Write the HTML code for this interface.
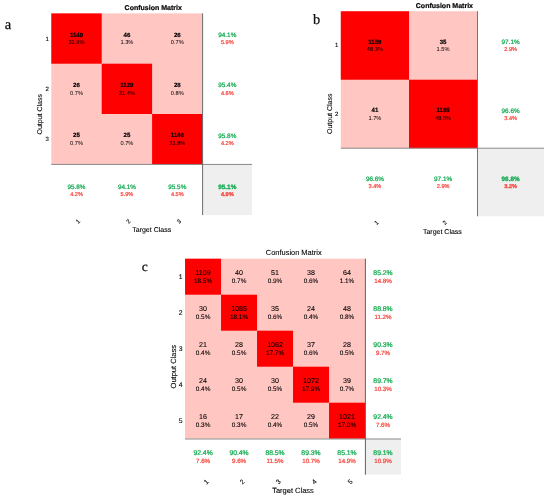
<!DOCTYPE html>
<html><head><meta charset="utf-8"><title>Confusion Matrices</title>
<style>
html,body{margin:0;padding:0;background:#fff;}
body{width:550px;height:500px;overflow:hidden;}
svg{display:block;font-family:"Liberation Sans", Arial, sans-serif;text-rendering:geometricPrecision;}
</style></head><body>
<svg width="550" height="500" viewBox="0 0 550 500">
<rect x="0" y="0" width="550" height="500" fill="#ffffff"/>
<rect x="51.30" y="13.40" width="151.20" height="150.90" fill="#ffc6c2"/>
<rect x="51.30" y="13.40" width="50.40" height="50.30" fill="#ff0000"/>
<rect x="101.70" y="63.70" width="50.40" height="50.30" fill="#ff0000"/>
<rect x="152.10" y="114.00" width="50.40" height="50.30" fill="#ff0000"/>
<rect x="202.50" y="164.30" width="49.60" height="50.80" fill="#efefef"/>
<line x1="51.30" y1="164.45" x2="252.10" y2="164.45" stroke="#858585" stroke-width="0.95"/>
<line x1="202.60" y1="13.40" x2="202.60" y2="215.10" stroke="#666666" stroke-width="0.95"/>
<text x="76.50" y="36.75" font-size="6.1" fill="#000" font-weight="bold" text-anchor="middle" stroke="#000" stroke-width="0.18">1149</text>
<text x="76.50" y="44.25" font-size="5.7" fill="#000" text-anchor="middle" stroke="#000" stroke-width="0.02">31.9%</text>
<text x="126.90" y="36.75" font-size="6.1" fill="#000" font-weight="bold" text-anchor="middle" stroke="#000" stroke-width="0.18">46</text>
<text x="126.90" y="44.25" font-size="5.7" fill="#000" text-anchor="middle" stroke="#000" stroke-width="0.02">1.3%</text>
<text x="177.30" y="36.75" font-size="6.1" fill="#000" font-weight="bold" text-anchor="middle" stroke="#000" stroke-width="0.18">26</text>
<text x="177.30" y="44.25" font-size="5.7" fill="#000" text-anchor="middle" stroke="#000" stroke-width="0.02">0.7%</text>
<text x="76.50" y="87.05" font-size="6.1" fill="#000" font-weight="bold" text-anchor="middle" stroke="#000" stroke-width="0.18">26</text>
<text x="76.50" y="94.55" font-size="5.7" fill="#000" text-anchor="middle" stroke="#000" stroke-width="0.02">0.7%</text>
<text x="126.90" y="87.05" font-size="6.1" fill="#000" font-weight="bold" text-anchor="middle" stroke="#000" stroke-width="0.18">1129</text>
<text x="126.90" y="94.55" font-size="5.7" fill="#000" text-anchor="middle" stroke="#000" stroke-width="0.02">31.4%</text>
<text x="177.30" y="87.05" font-size="6.1" fill="#000" font-weight="bold" text-anchor="middle" stroke="#000" stroke-width="0.18">28</text>
<text x="177.30" y="94.55" font-size="5.7" fill="#000" text-anchor="middle" stroke="#000" stroke-width="0.02">0.8%</text>
<text x="76.50" y="137.35" font-size="6.1" fill="#000" font-weight="bold" text-anchor="middle" stroke="#000" stroke-width="0.18">25</text>
<text x="76.50" y="144.85" font-size="5.7" fill="#000" text-anchor="middle" stroke="#000" stroke-width="0.02">0.7%</text>
<text x="126.90" y="137.35" font-size="6.1" fill="#000" font-weight="bold" text-anchor="middle" stroke="#000" stroke-width="0.18">25</text>
<text x="126.90" y="144.85" font-size="5.7" fill="#000" text-anchor="middle" stroke="#000" stroke-width="0.02">0.7%</text>
<text x="177.30" y="137.35" font-size="6.1" fill="#000" font-weight="bold" text-anchor="middle" stroke="#000" stroke-width="0.18">1146</text>
<text x="177.30" y="144.85" font-size="5.7" fill="#000" text-anchor="middle" stroke="#000" stroke-width="0.02">31.8%</text>
<text x="227.30" y="37.15" font-size="6.35" fill="#12aa50" text-anchor="middle" stroke="#12aa50" stroke-width="0.23">94.1%</text>
<text x="227.30" y="44.25" font-size="5.6" fill="#f7463d" text-anchor="middle" stroke="#f7463d" stroke-width="0.23">5.9%</text>
<text x="227.30" y="87.45" font-size="6.35" fill="#12aa50" text-anchor="middle" stroke="#12aa50" stroke-width="0.23">95.4%</text>
<text x="227.30" y="94.55" font-size="5.6" fill="#f7463d" text-anchor="middle" stroke="#f7463d" stroke-width="0.23">4.6%</text>
<text x="227.30" y="137.75" font-size="6.35" fill="#12aa50" text-anchor="middle" stroke="#12aa50" stroke-width="0.23">95.8%</text>
<text x="227.30" y="144.85" font-size="5.6" fill="#f7463d" text-anchor="middle" stroke="#f7463d" stroke-width="0.23">4.2%</text>
<text x="227.30" y="188.80" font-size="6.35" fill="#12aa50" font-weight="bold" text-anchor="middle" stroke="#12aa50" stroke-width="0.32">95.1%</text>
<text x="227.30" y="195.90" font-size="5.6" fill="#f7463d" font-weight="bold" text-anchor="middle" stroke="#f7463d" stroke-width="0.32">4.9%</text>
<text x="76.50" y="188.80" font-size="6.35" fill="#12aa50" text-anchor="middle" stroke="#12aa50" stroke-width="0.23">95.8%</text>
<text x="76.50" y="195.90" font-size="5.6" fill="#f7463d" text-anchor="middle" stroke="#f7463d" stroke-width="0.23">4.2%</text>
<text x="126.90" y="188.80" font-size="6.35" fill="#12aa50" text-anchor="middle" stroke="#12aa50" stroke-width="0.23">94.1%</text>
<text x="126.90" y="195.90" font-size="5.6" fill="#f7463d" text-anchor="middle" stroke="#f7463d" stroke-width="0.23">5.9%</text>
<text x="177.30" y="188.80" font-size="6.35" fill="#12aa50" text-anchor="middle" stroke="#12aa50" stroke-width="0.23">95.5%</text>
<text x="177.30" y="195.90" font-size="5.6" fill="#f7463d" text-anchor="middle" stroke="#f7463d" stroke-width="0.23">4.5%</text>
<text x="153.20" y="10.40" font-size="7" fill="#000" font-weight="bold" text-anchor="middle" stroke="#000" stroke-width="0.18">Confusion Matrix</text>
<text x="48.80" y="40.55" font-size="6" fill="#000" text-anchor="end" stroke="#000" stroke-width="0.09">1</text>
<text x="48.80" y="90.85" font-size="6" fill="#000" text-anchor="end" stroke="#000" stroke-width="0.09">2</text>
<text x="48.80" y="141.15" font-size="6" fill="#000" text-anchor="end" stroke="#000" stroke-width="0.09">3</text>
<text x="78.00" y="223.46" font-size="6" fill="#000" text-anchor="middle" transform="rotate(-45 78.00 221.30)" stroke="#000" stroke-width="0.09">1</text>
<text x="128.40" y="223.46" font-size="6" fill="#000" text-anchor="middle" transform="rotate(-45 128.40 221.30)" stroke="#000" stroke-width="0.09">2</text>
<text x="178.80" y="223.46" font-size="6" fill="#000" text-anchor="middle" transform="rotate(-45 178.80 221.30)" stroke="#000" stroke-width="0.09">3</text>
<text x="151.70" y="232.10" font-size="7" fill="#000" text-anchor="middle" stroke="#000" stroke-width="0.09">Target Class</text>
<text x="42.30" y="114.25" font-size="7" fill="#000" text-anchor="middle" transform="rotate(-90 42.30 114.25)" stroke="#000" stroke-width="0.09">Output Class</text>
<text x="4.8" y="29.4" font-size="14.5" font-family='"Liberation Serif", "DejaVu Serif", serif' fill="#111" stroke="#111" stroke-width="0.25">a</text>
<rect x="340.80" y="11.25" width="136.40" height="136.94" fill="#ffc6c2"/>
<rect x="340.80" y="11.25" width="68.20" height="68.47" fill="#ff0000"/>
<rect x="409.00" y="79.72" width="68.20" height="68.47" fill="#ff0000"/>
<rect x="477.20" y="148.19" width="66.80" height="68.10" fill="#efefef"/>
<line x1="340.80" y1="148.19" x2="544.00" y2="148.19" stroke="#858585" stroke-width="0.95"/>
<line x1="477.50" y1="11.25" x2="477.50" y2="216.29" stroke="#666666" stroke-width="0.9"/>
<text x="374.90" y="43.69" font-size="6.1" fill="#000" font-weight="bold" text-anchor="middle" stroke="#000" stroke-width="0.18">1159</text>
<text x="374.90" y="51.19" font-size="5.7" fill="#000" text-anchor="middle" stroke="#000" stroke-width="0.02">48.3%</text>
<text x="443.10" y="43.69" font-size="6.1" fill="#000" font-weight="bold" text-anchor="middle" stroke="#000" stroke-width="0.18">35</text>
<text x="443.10" y="51.19" font-size="5.7" fill="#000" text-anchor="middle" stroke="#000" stroke-width="0.02">1.5%</text>
<text x="374.90" y="112.16" font-size="6.1" fill="#000" font-weight="bold" text-anchor="middle" stroke="#000" stroke-width="0.18">41</text>
<text x="374.90" y="119.66" font-size="5.7" fill="#000" text-anchor="middle" stroke="#000" stroke-width="0.02">1.7%</text>
<text x="443.10" y="112.16" font-size="6.1" fill="#000" font-weight="bold" text-anchor="middle" stroke="#000" stroke-width="0.18">1165</text>
<text x="443.10" y="119.66" font-size="5.7" fill="#000" text-anchor="middle" stroke="#000" stroke-width="0.02">48.5%</text>
<text x="510.60" y="44.09" font-size="6.35" fill="#12aa50" text-anchor="middle" stroke="#12aa50" stroke-width="0.23">97.1%</text>
<text x="510.60" y="51.19" font-size="5.6" fill="#f7463d" text-anchor="middle" stroke="#f7463d" stroke-width="0.23">2.9%</text>
<text x="510.60" y="112.55" font-size="6.35" fill="#12aa50" text-anchor="middle" stroke="#12aa50" stroke-width="0.23">96.6%</text>
<text x="510.60" y="119.66" font-size="5.6" fill="#f7463d" text-anchor="middle" stroke="#f7463d" stroke-width="0.23">3.4%</text>
<text x="510.60" y="180.84" font-size="6.35" fill="#12aa50" font-weight="bold" text-anchor="middle" stroke="#12aa50" stroke-width="0.32">96.8%</text>
<text x="510.60" y="187.94" font-size="5.6" fill="#f7463d" font-weight="bold" text-anchor="middle" stroke="#f7463d" stroke-width="0.32">3.2%</text>
<text x="374.90" y="180.84" font-size="6.35" fill="#12aa50" text-anchor="middle" stroke="#12aa50" stroke-width="0.23">96.6%</text>
<text x="374.90" y="187.94" font-size="5.6" fill="#f7463d" text-anchor="middle" stroke="#f7463d" stroke-width="0.23">3.4%</text>
<text x="443.10" y="180.84" font-size="6.35" fill="#12aa50" text-anchor="middle" stroke="#12aa50" stroke-width="0.23">97.1%</text>
<text x="443.10" y="187.94" font-size="5.6" fill="#f7463d" text-anchor="middle" stroke="#f7463d" stroke-width="0.23">2.9%</text>
<text x="444.40" y="8.25" font-size="7" fill="#000" font-weight="bold" text-anchor="middle" stroke="#000" stroke-width="0.18">Confusion Matrix</text>
<text x="338.30" y="47.48" font-size="6" fill="#000" text-anchor="end" stroke="#000" stroke-width="0.09">1</text>
<text x="338.30" y="115.95" font-size="6" fill="#000" text-anchor="end" stroke="#000" stroke-width="0.09">2</text>
<text x="376.40" y="224.65" font-size="6" fill="#000" text-anchor="middle" transform="rotate(-45 376.40 222.49)" stroke="#000" stroke-width="0.09">1</text>
<text x="444.60" y="224.65" font-size="6" fill="#000" text-anchor="middle" transform="rotate(-45 444.60 222.49)" stroke="#000" stroke-width="0.09">2</text>
<text x="442.40" y="233.79" font-size="7" fill="#000" text-anchor="middle" stroke="#000" stroke-width="0.09">Target Class</text>
<text x="331.80" y="113.77" font-size="7" fill="#000" text-anchor="middle" transform="rotate(-90 331.80 113.77)" stroke="#000" stroke-width="0.09">Output Class</text>
<text x="313.1" y="24.1" font-size="14.4" font-family='"Liberation Serif", "DejaVu Serif", serif' fill="#111" stroke="#111" stroke-width="0.25">b</text>
<rect x="185.05" y="258.70" width="179.95" height="180.00" fill="#ffc6c2"/>
<rect x="185.05" y="258.70" width="35.99" height="36.00" fill="#ff0000"/>
<rect x="221.04" y="294.70" width="35.99" height="36.00" fill="#ff0000"/>
<rect x="257.03" y="330.70" width="35.99" height="36.00" fill="#ff0000"/>
<rect x="293.02" y="366.70" width="35.99" height="36.00" fill="#ff0000"/>
<rect x="329.01" y="402.70" width="35.99" height="36.00" fill="#ff0000"/>
<rect x="365.00" y="438.70" width="35.99" height="36.00" fill="#efefef"/>
<line x1="185.05" y1="439.00" x2="400.99" y2="439.00" stroke="#8c8c8c" stroke-width="1.1"/>
<line x1="365.40" y1="258.70" x2="365.40" y2="474.70" stroke="#606060" stroke-width="1.0"/>
<text x="203.05" y="275.30" font-size="7.1" fill="#000" text-anchor="middle" stroke="#000" stroke-width="0.09">1109</text>
<text x="203.05" y="282.70" font-size="6.4" fill="#000" text-anchor="middle" stroke="#000" stroke-width="0.09">18.5%</text>
<text x="239.04" y="275.30" font-size="7.1" fill="#000" text-anchor="middle" stroke="#000" stroke-width="0.09">40</text>
<text x="239.04" y="282.70" font-size="6.4" fill="#000" text-anchor="middle" stroke="#000" stroke-width="0.09">0.7%</text>
<text x="275.03" y="275.30" font-size="7.1" fill="#000" text-anchor="middle" stroke="#000" stroke-width="0.09">51</text>
<text x="275.03" y="282.70" font-size="6.4" fill="#000" text-anchor="middle" stroke="#000" stroke-width="0.09">0.9%</text>
<text x="311.01" y="275.30" font-size="7.1" fill="#000" text-anchor="middle" stroke="#000" stroke-width="0.09">38</text>
<text x="311.01" y="282.70" font-size="6.4" fill="#000" text-anchor="middle" stroke="#000" stroke-width="0.09">0.6%</text>
<text x="347.00" y="275.30" font-size="7.1" fill="#000" text-anchor="middle" stroke="#000" stroke-width="0.09">64</text>
<text x="347.00" y="282.70" font-size="6.4" fill="#000" text-anchor="middle" stroke="#000" stroke-width="0.09">1.1%</text>
<text x="203.05" y="311.30" font-size="7.1" fill="#000" text-anchor="middle" stroke="#000" stroke-width="0.09">30</text>
<text x="203.05" y="318.70" font-size="6.4" fill="#000" text-anchor="middle" stroke="#000" stroke-width="0.09">0.5%</text>
<text x="239.04" y="311.30" font-size="7.1" fill="#000" text-anchor="middle" stroke="#000" stroke-width="0.09">1085</text>
<text x="239.04" y="318.70" font-size="6.4" fill="#000" text-anchor="middle" stroke="#000" stroke-width="0.09">18.1%</text>
<text x="275.03" y="311.30" font-size="7.1" fill="#000" text-anchor="middle" stroke="#000" stroke-width="0.09">35</text>
<text x="275.03" y="318.70" font-size="6.4" fill="#000" text-anchor="middle" stroke="#000" stroke-width="0.09">0.6%</text>
<text x="311.01" y="311.30" font-size="7.1" fill="#000" text-anchor="middle" stroke="#000" stroke-width="0.09">24</text>
<text x="311.01" y="318.70" font-size="6.4" fill="#000" text-anchor="middle" stroke="#000" stroke-width="0.09">0.4%</text>
<text x="347.00" y="311.30" font-size="7.1" fill="#000" text-anchor="middle" stroke="#000" stroke-width="0.09">48</text>
<text x="347.00" y="318.70" font-size="6.4" fill="#000" text-anchor="middle" stroke="#000" stroke-width="0.09">0.8%</text>
<text x="203.05" y="347.30" font-size="7.1" fill="#000" text-anchor="middle" stroke="#000" stroke-width="0.09">21</text>
<text x="203.05" y="354.70" font-size="6.4" fill="#000" text-anchor="middle" stroke="#000" stroke-width="0.09">0.4%</text>
<text x="239.04" y="347.30" font-size="7.1" fill="#000" text-anchor="middle" stroke="#000" stroke-width="0.09">28</text>
<text x="239.04" y="354.70" font-size="6.4" fill="#000" text-anchor="middle" stroke="#000" stroke-width="0.09">0.5%</text>
<text x="275.03" y="347.30" font-size="7.1" fill="#000" text-anchor="middle" stroke="#000" stroke-width="0.09">1062</text>
<text x="275.03" y="354.70" font-size="6.4" fill="#000" text-anchor="middle" stroke="#000" stroke-width="0.09">17.7%</text>
<text x="311.01" y="347.30" font-size="7.1" fill="#000" text-anchor="middle" stroke="#000" stroke-width="0.09">37</text>
<text x="311.01" y="354.70" font-size="6.4" fill="#000" text-anchor="middle" stroke="#000" stroke-width="0.09">0.6%</text>
<text x="347.00" y="347.30" font-size="7.1" fill="#000" text-anchor="middle" stroke="#000" stroke-width="0.09">28</text>
<text x="347.00" y="354.70" font-size="6.4" fill="#000" text-anchor="middle" stroke="#000" stroke-width="0.09">0.5%</text>
<text x="203.05" y="383.30" font-size="7.1" fill="#000" text-anchor="middle" stroke="#000" stroke-width="0.09">24</text>
<text x="203.05" y="390.70" font-size="6.4" fill="#000" text-anchor="middle" stroke="#000" stroke-width="0.09">0.4%</text>
<text x="239.04" y="383.30" font-size="7.1" fill="#000" text-anchor="middle" stroke="#000" stroke-width="0.09">30</text>
<text x="239.04" y="390.70" font-size="6.4" fill="#000" text-anchor="middle" stroke="#000" stroke-width="0.09">0.5%</text>
<text x="275.03" y="383.30" font-size="7.1" fill="#000" text-anchor="middle" stroke="#000" stroke-width="0.09">30</text>
<text x="275.03" y="390.70" font-size="6.4" fill="#000" text-anchor="middle" stroke="#000" stroke-width="0.09">0.5%</text>
<text x="311.01" y="383.30" font-size="7.1" fill="#000" text-anchor="middle" stroke="#000" stroke-width="0.09">1072</text>
<text x="311.01" y="390.70" font-size="6.4" fill="#000" text-anchor="middle" stroke="#000" stroke-width="0.09">17.9%</text>
<text x="347.00" y="383.30" font-size="7.1" fill="#000" text-anchor="middle" stroke="#000" stroke-width="0.09">39</text>
<text x="347.00" y="390.70" font-size="6.4" fill="#000" text-anchor="middle" stroke="#000" stroke-width="0.09">0.7%</text>
<text x="203.05" y="419.30" font-size="7.1" fill="#000" text-anchor="middle" stroke="#000" stroke-width="0.09">16</text>
<text x="203.05" y="426.70" font-size="6.4" fill="#000" text-anchor="middle" stroke="#000" stroke-width="0.09">0.3%</text>
<text x="239.04" y="419.30" font-size="7.1" fill="#000" text-anchor="middle" stroke="#000" stroke-width="0.09">17</text>
<text x="239.04" y="426.70" font-size="6.4" fill="#000" text-anchor="middle" stroke="#000" stroke-width="0.09">0.3%</text>
<text x="275.03" y="419.30" font-size="7.1" fill="#000" text-anchor="middle" stroke="#000" stroke-width="0.09">22</text>
<text x="275.03" y="426.70" font-size="6.4" fill="#000" text-anchor="middle" stroke="#000" stroke-width="0.09">0.4%</text>
<text x="311.01" y="419.30" font-size="7.1" fill="#000" text-anchor="middle" stroke="#000" stroke-width="0.09">29</text>
<text x="311.01" y="426.70" font-size="6.4" fill="#000" text-anchor="middle" stroke="#000" stroke-width="0.09">0.5%</text>
<text x="347.00" y="419.30" font-size="7.1" fill="#000" text-anchor="middle" stroke="#000" stroke-width="0.09">1021</text>
<text x="347.00" y="426.70" font-size="6.4" fill="#000" text-anchor="middle" stroke="#000" stroke-width="0.09">17.0%</text>
<text x="383.00" y="275.30" font-size="6.8" fill="#12aa50" text-anchor="middle" stroke="#12aa50" stroke-width="0.23">85.2%</text>
<text x="383.00" y="282.70" font-size="6.2" fill="#f7463d" text-anchor="middle" stroke="#f7463d" stroke-width="0.23">14.8%</text>
<text x="383.00" y="311.30" font-size="6.8" fill="#12aa50" text-anchor="middle" stroke="#12aa50" stroke-width="0.23">88.8%</text>
<text x="383.00" y="318.70" font-size="6.2" fill="#f7463d" text-anchor="middle" stroke="#f7463d" stroke-width="0.23">11.2%</text>
<text x="383.00" y="347.30" font-size="6.8" fill="#12aa50" text-anchor="middle" stroke="#12aa50" stroke-width="0.23">90.3%</text>
<text x="383.00" y="354.70" font-size="6.2" fill="#f7463d" text-anchor="middle" stroke="#f7463d" stroke-width="0.23">9.7%</text>
<text x="383.00" y="383.30" font-size="6.8" fill="#12aa50" text-anchor="middle" stroke="#12aa50" stroke-width="0.23">89.7%</text>
<text x="383.00" y="390.70" font-size="6.2" fill="#f7463d" text-anchor="middle" stroke="#f7463d" stroke-width="0.23">10.3%</text>
<text x="383.00" y="419.30" font-size="6.8" fill="#12aa50" text-anchor="middle" stroke="#12aa50" stroke-width="0.23">92.4%</text>
<text x="383.00" y="426.70" font-size="6.2" fill="#f7463d" text-anchor="middle" stroke="#f7463d" stroke-width="0.23">7.6%</text>
<text x="383.00" y="455.30" font-size="6.8" fill="#12aa50" text-anchor="middle" stroke="#12aa50" stroke-width="0.23">89.1%</text>
<text x="383.00" y="462.70" font-size="6.2" fill="#f7463d" text-anchor="middle" stroke="#f7463d" stroke-width="0.23">10.9%</text>
<text x="203.05" y="455.30" font-size="6.8" fill="#12aa50" text-anchor="middle" stroke="#12aa50" stroke-width="0.23">92.4%</text>
<text x="203.05" y="462.70" font-size="6.2" fill="#f7463d" text-anchor="middle" stroke="#f7463d" stroke-width="0.23">7.6%</text>
<text x="239.04" y="455.30" font-size="6.8" fill="#12aa50" text-anchor="middle" stroke="#12aa50" stroke-width="0.23">90.4%</text>
<text x="239.04" y="462.70" font-size="6.2" fill="#f7463d" text-anchor="middle" stroke="#f7463d" stroke-width="0.23">9.6%</text>
<text x="275.03" y="455.30" font-size="6.8" fill="#12aa50" text-anchor="middle" stroke="#12aa50" stroke-width="0.23">88.5%</text>
<text x="275.03" y="462.70" font-size="6.2" fill="#f7463d" text-anchor="middle" stroke="#f7463d" stroke-width="0.23">11.5%</text>
<text x="311.01" y="455.30" font-size="6.8" fill="#12aa50" text-anchor="middle" stroke="#12aa50" stroke-width="0.23">89.3%</text>
<text x="311.01" y="462.70" font-size="6.2" fill="#f7463d" text-anchor="middle" stroke="#f7463d" stroke-width="0.23">10.7%</text>
<text x="347.00" y="455.30" font-size="6.8" fill="#12aa50" text-anchor="middle" stroke="#12aa50" stroke-width="0.23">85.1%</text>
<text x="347.00" y="462.70" font-size="6.2" fill="#f7463d" text-anchor="middle" stroke="#f7463d" stroke-width="0.23">14.9%</text>
<text x="293.72" y="255.40" font-size="7.45" fill="#000" text-anchor="middle" stroke="#000" stroke-width="0.09">Confusion Matrix</text>
<text x="182.55" y="279.30" font-size="6.8" fill="#000" text-anchor="end" stroke="#000" stroke-width="0.09">1</text>
<text x="182.55" y="315.30" font-size="6.8" fill="#000" text-anchor="end" stroke="#000" stroke-width="0.09">2</text>
<text x="182.55" y="351.30" font-size="6.8" fill="#000" text-anchor="end" stroke="#000" stroke-width="0.09">3</text>
<text x="182.55" y="387.30" font-size="6.8" fill="#000" text-anchor="end" stroke="#000" stroke-width="0.09">4</text>
<text x="182.55" y="423.30" font-size="6.8" fill="#000" text-anchor="end" stroke="#000" stroke-width="0.09">5</text>
<text x="206.05" y="484.15" font-size="6.8" fill="#000" text-anchor="middle" transform="rotate(-45 206.05 481.70)" stroke="#000" stroke-width="0.09">1</text>
<text x="242.04" y="484.15" font-size="6.8" fill="#000" text-anchor="middle" transform="rotate(-45 242.04 481.70)" stroke="#000" stroke-width="0.09">2</text>
<text x="278.03" y="484.15" font-size="6.8" fill="#000" text-anchor="middle" transform="rotate(-45 278.03 481.70)" stroke="#000" stroke-width="0.09">3</text>
<text x="314.01" y="484.15" font-size="6.8" fill="#000" text-anchor="middle" transform="rotate(-45 314.01 481.70)" stroke="#000" stroke-width="0.09">4</text>
<text x="350.00" y="484.15" font-size="6.8" fill="#000" text-anchor="middle" transform="rotate(-45 350.00 481.70)" stroke="#000" stroke-width="0.09">5</text>
<text x="293.02" y="492.50" font-size="7.5" fill="#000" text-anchor="middle" stroke="#000" stroke-width="0.09">Target Class</text>
<text x="176.05" y="366.70" font-size="7.5" fill="#000" text-anchor="middle" transform="rotate(-90 176.05 366.70)" stroke="#000" stroke-width="0.09">Output Class</text>
<text x="141.7" y="271.3" font-size="13.5" font-family='"Liberation Serif", "DejaVu Serif", serif' fill="#111" stroke="#111" stroke-width="0.25">c</text>
</svg>
</body></html>
